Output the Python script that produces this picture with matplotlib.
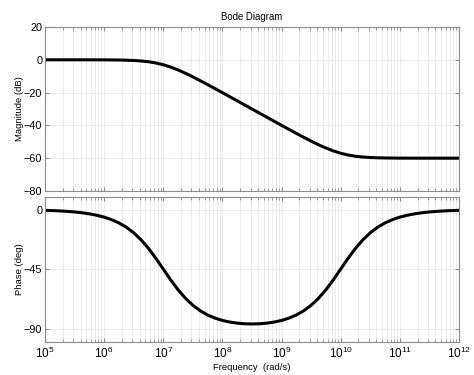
import numpy as np
import matplotlib
matplotlib.use("Agg")
import matplotlib.pyplot as plt
from matplotlib.ticker import FixedLocator, NullFormatter

plt.rcParams['font.family'] = ['Liberation Sans', 'DejaVu Sans']
plt.rcParams['mathtext.fontset'] = 'custom'
plt.rcParams['mathtext.rm'] = 'Liberation Sans'

# frequency points (log10 of rad/s), every 1/8 decade
log_freq = [5.0, 5.125, 5.25, 5.375, 5.5, 5.625, 5.75, 5.875,
            6.0, 6.125, 6.25, 6.375, 6.5, 6.625, 6.75, 6.875,
            7.0, 7.125, 7.25, 7.375, 7.5, 7.625, 7.75, 7.875,
            8.0, 8.125, 8.25, 8.375, 8.5, 8.625, 8.75, 8.875,
            9.0, 9.125, 9.25, 9.375, 9.5, 9.625, 9.75, 9.875,
            10.0, 10.125, 10.25, 10.375, 10.5, 10.625, 10.75, 10.875,
            11.0, 11.125, 11.25, 11.375, 11.5, 11.625, 11.75, 11.875,
            12.0]

magnitude_db = [0.0, 0.0, 0.0, 0.0, 0.0, -0.01, -0.01, -0.02,
                -0.04, -0.08, -0.14, -0.24, -0.41, -0.71, -1.19, -1.94,
                -3.01, -4.44, -6.19, -8.21, -10.41, -12.74, -15.14, -17.58,
                -20.04, -22.52, -25.01, -27.5, -30.0, -32.49, -34.99, -37.48,
                -39.96, -42.42, -44.87, -47.26, -49.59, -51.79, -53.81, -55.56,
                -56.99, -58.06, -58.81, -59.29, -59.59, -59.76, -59.87, -59.92,
                -59.96, -59.98, -59.99, -60.0, -60.0, -60.0, -60.0, -60.0,
                -60.0]

phase_deg = [-0.57, -0.76, -1.02, -1.36, -1.81, -2.42, -3.22, -4.29,
             -5.7, -7.59, -10.07, -13.33, -17.53, -22.85, -29.32, -36.82,
             -44.94, -53.06, -60.55, -66.99, -72.27, -76.42, -79.6, -81.97,
             -83.72, -84.95, -85.76, -86.23, -86.38, -86.23, -85.76, -84.95,
             -83.72, -81.97, -79.6, -76.42, -72.27, -66.99, -60.55, -53.06,
             -44.94, -36.82, -29.32, -22.85, -17.53, -13.33, -10.07, -7.59,
             -5.7, -4.29, -3.22, -2.42, -1.81, -1.36, -1.02, -0.76,
             -0.57]

decades = [5, 6, 7, 8, 9, 10, 11, 12]
mag_ticks = [20, 0, -20, -40, -60, -80]
phase_ticks = [0, -45, -90]

freq = 10.0 ** np.array(log_freq)
major_x = [10.0 ** d for d in decades]
minor_x = [m * 10.0 ** d for d in decades[:-1] for m in range(2, 10)]
x_labels = ["$10^{%d}$" % d for d in decades]

fig = plt.figure(figsize=(4.74, 3.75), dpi=100)
ax1 = fig.add_axes([0.0949, 0.4907, 0.8734, 0.4373])
ax2 = fig.add_axes([0.0949, 0.088, 0.8734, 0.3867])

spine_col = "#8c8c8c"
grid_col = "#e8e8e8"

for ax in (ax1, ax2):
    ax.set_xscale("log")
    ax.set_xlim(1e5, 1e12)
    ax.xaxis.set_major_locator(FixedLocator(major_x))
    ax.xaxis.set_minor_locator(FixedLocator(minor_x))
    ax.xaxis.set_minor_formatter(NullFormatter())
    ax.grid(True, which="major", color=grid_col, linewidth=0.6)
    ax.grid(True, which="minor", axis="x", color=grid_col, linewidth=0.6)
    ax.tick_params(which="both", direction="in", top=True, right=True,
                   color=spine_col)
    ax.tick_params(axis="x", labelsize=8.5, pad=3)
    ax.tick_params(axis="y", labelsize=7.8, pad=2)
    ax.tick_params(which="major", length=3)
    ax.tick_params(which="minor", length=2)
    for s in ax.spines.values():
        s.set_color(spine_col)
        s.set_linewidth(0.8)
    ax.set_axisbelow(True)

ax1.plot(freq, magnitude_db, color="black", linewidth=2.2)
ax1.set_ylim(-80, 20)
ax1.set_yticks(mag_ticks)
ax1.set_xticklabels([])
ax1.set_ylabel("Magnitude (dB)", fontsize=6.8, labelpad=0)
ax1.set_title("Bode Diagram", fontsize=6.9, pad=5)

ax2.plot(freq, phase_deg, color="black", linewidth=2.2)
ax2.set_ylim(-100, 9.5)
ax2.set_yticks(phase_ticks)
ax2.set_xticklabels(x_labels)
ax2.set_ylabel("Phase (deg)", fontsize=6.8, labelpad=0)
ax2.set_xlabel("Frequency  (rad/s)", fontsize=6.8, labelpad=1)

fig.savefig("out.png", dpi=100)
